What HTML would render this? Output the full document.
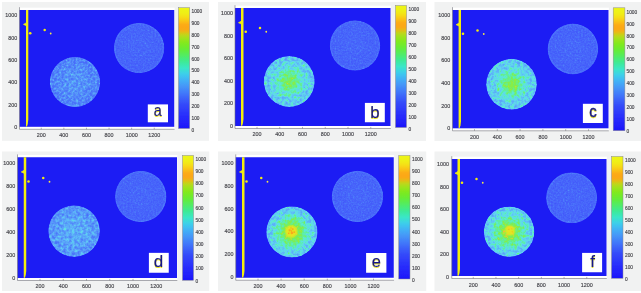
<!DOCTYPE html>
<html><head><meta charset="utf-8"><title>figure</title>
<style>html,body{margin:0;padding:0;background:#fff}svg{display:block}text{font-family:"Liberation Sans",Arial,sans-serif}</style></head><body>
<svg width="641" height="293" viewBox="0 0 641 293">
<defs>
<radialGradient id="g_a" cx="0.5" cy="0.5" r="0.5"><stop offset="0" stop-color="#545454"/><stop offset="0.5" stop-color="#505050"/><stop offset="0.9" stop-color="#4a4a4a"/><stop offset="0.96" stop-color="#4f4f4f"/><stop offset="1" stop-color="#4a4a4a"/></radialGradient>
<filter id="h_a" x="0" y="0" width="1" height="1" color-interpolation-filters="sRGB"><feTurbulence type="fractalNoise" baseFrequency="0.42" numOctaves="2" seed="2" result="t"/><feColorMatrix in="t" type="matrix" values="1 0 0 0 0  1 0 0 0 0  1 0 0 0 0  0 0 0 0 1" result="n0"/><feComponentTransfer in="n0" result="n"><feFuncR type="gamma" exponent="2.0"/><feFuncG type="gamma" exponent="2.0"/><feFuncB type="gamma" exponent="2.0"/></feComponentTransfer><feComposite in="SourceGraphic" in2="n" operator="arithmetic" k1="0" k2="1" k3="0.26" k4="-0.065" result="v"/><feComponentTransfer in="v" result="c"><feFuncR type="table" tableValues="0.154 0.167 0.180 0.192 0.205 0.218 0.230 0.243 0.255 0.271 0.287 0.299 0.320 0.336 0.351 0.360 0.368 0.370 0.373 0.367 0.361 0.361 0.362 0.392 0.422 0.453 0.484 0.523 0.563 0.625 0.695 0.787 0.915 0.984 0.990 0.986 0.978 0.965 0.947 0.940 0.933"/><feFuncG type="table" tableValues="0.132 0.154 0.176 0.198 0.220 0.249 0.278 0.307 0.336 0.381 0.426 0.475 0.529 0.583 0.636 0.687 0.736 0.790 0.842 0.880 0.919 0.925 0.931 0.934 0.937 0.937 0.937 0.933 0.929 0.917 0.897 0.859 0.768 0.702 0.707 0.754 0.823 0.888 0.940 0.954 0.968"/><feFuncB type="table" tableValues="0.981 0.983 0.985 0.987 0.989 0.987 0.985 0.983 0.982 0.982 0.982 0.982 0.982 0.979 0.976 0.973 0.970 0.954 0.939 0.880 0.822 0.743 0.663 0.583 0.502 0.420 0.337 0.294 0.251 0.239 0.229 0.219 0.211 0.208 0.204 0.198 0.189 0.181 0.177 0.174 0.171"/></feComponentTransfer><feComposite in="c" in2="SourceAlpha" operator="in"/></filter>
<radialGradient id="g_b" cx="0.5" cy="0.5" r="0.5"><stop offset="0" stop-color="#ababab"/><stop offset="0.2" stop-color="#9e9e9e"/><stop offset="0.42" stop-color="#858585"/><stop offset="0.65" stop-color="#737373"/><stop offset="0.9" stop-color="#6b6b6b"/><stop offset="0.96" stop-color="#707070"/><stop offset="1" stop-color="#696969"/></radialGradient>
<filter id="h_b" x="0" y="0" width="1" height="1" color-interpolation-filters="sRGB"><feTurbulence type="fractalNoise" baseFrequency="0.34" numOctaves="2" seed="5" result="t"/><feColorMatrix in="t" type="matrix" values="1 0 0 0 0  1 0 0 0 0  1 0 0 0 0  0 0 0 0 1" result="n0"/><feComponentTransfer in="n0" result="n"><feFuncR type="gamma" exponent="2.0"/><feFuncG type="gamma" exponent="2.0"/><feFuncB type="gamma" exponent="2.0"/></feComponentTransfer><feComposite in="SourceGraphic" in2="n" operator="arithmetic" k1="0" k2="1" k3="0.36" k4="-0.090" result="v"/><feComponentTransfer in="v" result="c"><feFuncR type="table" tableValues="0.154 0.167 0.180 0.192 0.205 0.218 0.230 0.243 0.255 0.271 0.287 0.299 0.320 0.336 0.351 0.360 0.368 0.370 0.373 0.367 0.361 0.361 0.362 0.392 0.422 0.453 0.484 0.523 0.563 0.625 0.695 0.787 0.915 0.984 0.990 0.986 0.978 0.965 0.947 0.940 0.933"/><feFuncG type="table" tableValues="0.132 0.154 0.176 0.198 0.220 0.249 0.278 0.307 0.336 0.381 0.426 0.475 0.529 0.583 0.636 0.687 0.736 0.790 0.842 0.880 0.919 0.925 0.931 0.934 0.937 0.937 0.937 0.933 0.929 0.917 0.897 0.859 0.768 0.702 0.707 0.754 0.823 0.888 0.940 0.954 0.968"/><feFuncB type="table" tableValues="0.981 0.983 0.985 0.987 0.989 0.987 0.985 0.983 0.982 0.982 0.982 0.982 0.982 0.979 0.976 0.973 0.970 0.954 0.939 0.880 0.822 0.743 0.663 0.583 0.502 0.420 0.337 0.294 0.251 0.239 0.229 0.219 0.211 0.208 0.204 0.198 0.189 0.181 0.177 0.174 0.171"/></feComponentTransfer><feComposite in="c" in2="SourceAlpha" operator="in"/></filter>
<radialGradient id="g_c" cx="0.5" cy="0.5" r="0.5"><stop offset="0" stop-color="#b0b0b0"/><stop offset="0.2" stop-color="#a1a1a1"/><stop offset="0.42" stop-color="#858585"/><stop offset="0.65" stop-color="#737373"/><stop offset="0.9" stop-color="#6b6b6b"/><stop offset="0.96" stop-color="#707070"/><stop offset="1" stop-color="#696969"/></radialGradient>
<filter id="h_c" x="0" y="0" width="1" height="1" color-interpolation-filters="sRGB"><feTurbulence type="fractalNoise" baseFrequency="0.34" numOctaves="2" seed="9" result="t"/><feColorMatrix in="t" type="matrix" values="1 0 0 0 0  1 0 0 0 0  1 0 0 0 0  0 0 0 0 1" result="n0"/><feComponentTransfer in="n0" result="n"><feFuncR type="gamma" exponent="2.0"/><feFuncG type="gamma" exponent="2.0"/><feFuncB type="gamma" exponent="2.0"/></feComponentTransfer><feComposite in="SourceGraphic" in2="n" operator="arithmetic" k1="0" k2="1" k3="0.36" k4="-0.090" result="v"/><feComponentTransfer in="v" result="c"><feFuncR type="table" tableValues="0.154 0.167 0.180 0.192 0.205 0.218 0.230 0.243 0.255 0.271 0.287 0.299 0.320 0.336 0.351 0.360 0.368 0.370 0.373 0.367 0.361 0.361 0.362 0.392 0.422 0.453 0.484 0.523 0.563 0.625 0.695 0.787 0.915 0.984 0.990 0.986 0.978 0.965 0.947 0.940 0.933"/><feFuncG type="table" tableValues="0.132 0.154 0.176 0.198 0.220 0.249 0.278 0.307 0.336 0.381 0.426 0.475 0.529 0.583 0.636 0.687 0.736 0.790 0.842 0.880 0.919 0.925 0.931 0.934 0.937 0.937 0.937 0.933 0.929 0.917 0.897 0.859 0.768 0.702 0.707 0.754 0.823 0.888 0.940 0.954 0.968"/><feFuncB type="table" tableValues="0.981 0.983 0.985 0.987 0.989 0.987 0.985 0.983 0.982 0.982 0.982 0.982 0.982 0.979 0.976 0.973 0.970 0.954 0.939 0.880 0.822 0.743 0.663 0.583 0.502 0.420 0.337 0.294 0.251 0.239 0.229 0.219 0.211 0.208 0.204 0.198 0.189 0.181 0.177 0.174 0.171"/></feComponentTransfer><feComposite in="c" in2="SourceAlpha" operator="in"/></filter>
<radialGradient id="g_d" cx="0.5" cy="0.5" r="0.5"><stop offset="0" stop-color="#606060"/><stop offset="0.5" stop-color="#5b5b5b"/><stop offset="0.9" stop-color="#535353"/><stop offset="0.96" stop-color="#585858"/><stop offset="1" stop-color="#525252"/></radialGradient>
<filter id="h_d" x="0" y="0" width="1" height="1" color-interpolation-filters="sRGB"><feTurbulence type="fractalNoise" baseFrequency="0.36" numOctaves="2" seed="12" result="t"/><feColorMatrix in="t" type="matrix" values="1 0 0 0 0  1 0 0 0 0  1 0 0 0 0  0 0 0 0 1" result="n0"/><feComponentTransfer in="n0" result="n"><feFuncR type="gamma" exponent="1.6"/><feFuncG type="gamma" exponent="1.6"/><feFuncB type="gamma" exponent="1.6"/></feComponentTransfer><feComposite in="SourceGraphic" in2="n" operator="arithmetic" k1="0" k2="1" k3="0.28" k4="-0.092" result="v"/><feComponentTransfer in="v" result="c"><feFuncR type="table" tableValues="0.154 0.167 0.180 0.192 0.205 0.218 0.230 0.243 0.255 0.271 0.287 0.299 0.320 0.336 0.351 0.360 0.368 0.370 0.373 0.367 0.361 0.361 0.362 0.392 0.422 0.453 0.484 0.523 0.563 0.625 0.695 0.787 0.915 0.984 0.990 0.986 0.978 0.965 0.947 0.940 0.933"/><feFuncG type="table" tableValues="0.132 0.154 0.176 0.198 0.220 0.249 0.278 0.307 0.336 0.381 0.426 0.475 0.529 0.583 0.636 0.687 0.736 0.790 0.842 0.880 0.919 0.925 0.931 0.934 0.937 0.937 0.937 0.933 0.929 0.917 0.897 0.859 0.768 0.702 0.707 0.754 0.823 0.888 0.940 0.954 0.968"/><feFuncB type="table" tableValues="0.981 0.983 0.985 0.987 0.989 0.987 0.985 0.983 0.982 0.982 0.982 0.982 0.982 0.979 0.976 0.973 0.970 0.954 0.939 0.880 0.822 0.743 0.663 0.583 0.502 0.420 0.337 0.294 0.251 0.239 0.229 0.219 0.211 0.208 0.204 0.198 0.189 0.181 0.177 0.174 0.171"/></feComponentTransfer><feComposite in="c" in2="SourceAlpha" operator="in"/></filter>
<radialGradient id="g_e" cx="0.5" cy="0.5" r="0.5"><stop offset="0" stop-color="#c7c7c7"/><stop offset="0.18" stop-color="#bdbdbd"/><stop offset="0.32" stop-color="#a6a6a6"/><stop offset="0.52" stop-color="#8b8b8b"/><stop offset="0.72" stop-color="#757575"/><stop offset="0.9" stop-color="#6c6c6c"/><stop offset="0.96" stop-color="#717171"/><stop offset="1" stop-color="#696969"/></radialGradient>
<filter id="h_e" x="0" y="0" width="1" height="1" color-interpolation-filters="sRGB"><feTurbulence type="fractalNoise" baseFrequency="0.34" numOctaves="2" seed="17" result="t"/><feColorMatrix in="t" type="matrix" values="1 0 0 0 0  1 0 0 0 0  1 0 0 0 0  0 0 0 0 1" result="n0"/><feComponentTransfer in="n0" result="n"><feFuncR type="gamma" exponent="2.0"/><feFuncG type="gamma" exponent="2.0"/><feFuncB type="gamma" exponent="2.0"/></feComponentTransfer><feComposite in="SourceGraphic" in2="n" operator="arithmetic" k1="0" k2="1" k3="0.36" k4="-0.090" result="v"/><feComponentTransfer in="v" result="c"><feFuncR type="table" tableValues="0.154 0.167 0.180 0.192 0.205 0.218 0.230 0.243 0.255 0.271 0.287 0.299 0.320 0.336 0.351 0.360 0.368 0.370 0.373 0.367 0.361 0.361 0.362 0.392 0.422 0.453 0.484 0.523 0.563 0.625 0.695 0.787 0.915 0.984 0.990 0.986 0.978 0.965 0.947 0.940 0.933"/><feFuncG type="table" tableValues="0.132 0.154 0.176 0.198 0.220 0.249 0.278 0.307 0.336 0.381 0.426 0.475 0.529 0.583 0.636 0.687 0.736 0.790 0.842 0.880 0.919 0.925 0.931 0.934 0.937 0.937 0.937 0.933 0.929 0.917 0.897 0.859 0.768 0.702 0.707 0.754 0.823 0.888 0.940 0.954 0.968"/><feFuncB type="table" tableValues="0.981 0.983 0.985 0.987 0.989 0.987 0.985 0.983 0.982 0.982 0.982 0.982 0.982 0.979 0.976 0.973 0.970 0.954 0.939 0.880 0.822 0.743 0.663 0.583 0.502 0.420 0.337 0.294 0.251 0.239 0.229 0.219 0.211 0.208 0.204 0.198 0.189 0.181 0.177 0.174 0.171"/></feComponentTransfer><feComposite in="c" in2="SourceAlpha" operator="in"/></filter>
<radialGradient id="g_f" cx="0.5" cy="0.5" r="0.5"><stop offset="0" stop-color="#bfbfbf"/><stop offset="0.2" stop-color="#b8b8b8"/><stop offset="0.34" stop-color="#9e9e9e"/><stop offset="0.56" stop-color="#878787"/><stop offset="0.76" stop-color="#747474"/><stop offset="0.9" stop-color="#6c6c6c"/><stop offset="0.96" stop-color="#717171"/><stop offset="1" stop-color="#696969"/></radialGradient>
<filter id="h_f" x="0" y="0" width="1" height="1" color-interpolation-filters="sRGB"><feTurbulence type="fractalNoise" baseFrequency="0.34" numOctaves="2" seed="23" result="t"/><feColorMatrix in="t" type="matrix" values="1 0 0 0 0  1 0 0 0 0  1 0 0 0 0  0 0 0 0 1" result="n0"/><feComponentTransfer in="n0" result="n"><feFuncR type="gamma" exponent="2.0"/><feFuncG type="gamma" exponent="2.0"/><feFuncB type="gamma" exponent="2.0"/></feComponentTransfer><feComposite in="SourceGraphic" in2="n" operator="arithmetic" k1="0" k2="1" k3="0.36" k4="-0.090" result="v"/><feComponentTransfer in="v" result="c"><feFuncR type="table" tableValues="0.154 0.167 0.180 0.192 0.205 0.218 0.230 0.243 0.255 0.271 0.287 0.299 0.320 0.336 0.351 0.360 0.368 0.370 0.373 0.367 0.361 0.361 0.362 0.392 0.422 0.453 0.484 0.523 0.563 0.625 0.695 0.787 0.915 0.984 0.990 0.986 0.978 0.965 0.947 0.940 0.933"/><feFuncG type="table" tableValues="0.132 0.154 0.176 0.198 0.220 0.249 0.278 0.307 0.336 0.381 0.426 0.475 0.529 0.583 0.636 0.687 0.736 0.790 0.842 0.880 0.919 0.925 0.931 0.934 0.937 0.937 0.937 0.933 0.929 0.917 0.897 0.859 0.768 0.702 0.707 0.754 0.823 0.888 0.940 0.954 0.968"/><feFuncB type="table" tableValues="0.981 0.983 0.985 0.987 0.989 0.987 0.985 0.983 0.982 0.982 0.982 0.982 0.982 0.979 0.976 0.973 0.970 0.954 0.939 0.880 0.822 0.743 0.663 0.583 0.502 0.420 0.337 0.294 0.251 0.239 0.229 0.219 0.211 0.208 0.204 0.198 0.189 0.181 0.177 0.174 0.171"/></feComponentTransfer><feComposite in="c" in2="SourceAlpha" operator="in"/></filter>
<radialGradient id="g_r" cx="0.5" cy="0.5" r="0.5"><stop offset="0" stop-color="#3d3d3d"/><stop offset="0.28" stop-color="#3c3c3c"/><stop offset="0.31" stop-color="#424242"/><stop offset="0.34" stop-color="#3c3c3c"/><stop offset="0.9" stop-color="#3b3b3b"/><stop offset="0.96" stop-color="#424242"/><stop offset="1" stop-color="#3c3c3c"/></radialGradient>
<filter id="h_r" x="0" y="0" width="1" height="1" color-interpolation-filters="sRGB"><feTurbulence type="fractalNoise" baseFrequency="0.6" numOctaves="2" seed="31" result="t"/><feColorMatrix in="t" type="matrix" values="1 0 0 0 0  1 0 0 0 0  1 0 0 0 0  0 0 0 0 1" result="n0"/><feComponentTransfer in="n0" result="n"><feFuncR type="gamma" exponent="2.0"/><feFuncG type="gamma" exponent="2.0"/><feFuncB type="gamma" exponent="2.0"/></feComponentTransfer><feComposite in="SourceGraphic" in2="n" operator="arithmetic" k1="0" k2="1" k3="0.12" k4="-0.030" result="v"/><feComponentTransfer in="v" result="c"><feFuncR type="table" tableValues="0.154 0.167 0.180 0.192 0.205 0.218 0.230 0.243 0.255 0.271 0.287 0.299 0.320 0.336 0.351 0.360 0.368 0.370 0.373 0.367 0.361 0.361 0.362 0.392 0.422 0.453 0.484 0.523 0.563 0.625 0.695 0.787 0.915 0.984 0.990 0.986 0.978 0.965 0.947 0.940 0.933"/><feFuncG type="table" tableValues="0.132 0.154 0.176 0.198 0.220 0.249 0.278 0.307 0.336 0.381 0.426 0.475 0.529 0.583 0.636 0.687 0.736 0.790 0.842 0.880 0.919 0.925 0.931 0.934 0.937 0.937 0.937 0.933 0.929 0.917 0.897 0.859 0.768 0.702 0.707 0.754 0.823 0.888 0.940 0.954 0.968"/><feFuncB type="table" tableValues="0.981 0.983 0.985 0.987 0.989 0.987 0.985 0.983 0.982 0.982 0.982 0.982 0.982 0.979 0.976 0.973 0.970 0.954 0.939 0.880 0.822 0.743 0.663 0.583 0.502 0.420 0.337 0.294 0.251 0.239 0.229 0.219 0.211 0.208 0.204 0.198 0.189 0.181 0.177 0.174 0.171"/></feComponentTransfer><feComposite in="c" in2="SourceAlpha" operator="in"/></filter>
<linearGradient id="cb" x1="0" y1="0" x2="0" y2="1"><stop offset="0.000" stop-color="#ecf614"/><stop offset="0.020" stop-color="#eef314"/><stop offset="0.040" stop-color="#eff014"/><stop offset="0.060" stop-color="#f2e814"/><stop offset="0.080" stop-color="#f6dc14"/><stop offset="0.100" stop-color="#f9cc15"/><stop offset="0.120" stop-color="#fbbc17"/><stop offset="0.140" stop-color="#fcac18"/><stop offset="0.160" stop-color="#fca818"/><stop offset="0.180" stop-color="#f9aa18"/><stop offset="0.200" stop-color="#e6bb18"/><stop offset="0.220" stop-color="#c8d119"/><stop offset="0.240" stop-color="#afdd1b"/><stop offset="0.260" stop-color="#9be41c"/><stop offset="0.280" stop-color="#8ce71e"/><stop offset="0.300" stop-color="#7dea20"/><stop offset="0.320" stop-color="#73eb2a"/><stop offset="0.340" stop-color="#69ec33"/><stop offset="0.360" stop-color="#60ec42"/><stop offset="0.380" stop-color="#58ec55"/><stop offset="0.400" stop-color="#50ec68"/><stop offset="0.420" stop-color="#48eb7b"/><stop offset="0.440" stop-color="#40ea8e"/><stop offset="0.460" stop-color="#3ce9a2"/><stop offset="0.480" stop-color="#3be8b5"/><stop offset="0.500" stop-color="#3ae6c8"/><stop offset="0.520" stop-color="#3bdcd6"/><stop offset="0.540" stop-color="#3cd3e5"/><stop offset="0.560" stop-color="#3dc8ee"/><stop offset="0.580" stop-color="#40bcf2"/><stop offset="0.600" stop-color="#42b0f6"/><stop offset="0.620" stop-color="#43a6f7"/><stop offset="0.640" stop-color="#449bf8"/><stop offset="0.660" stop-color="#4491f8"/><stop offset="0.680" stop-color="#4386f9"/><stop offset="0.700" stop-color="#427cfa"/><stop offset="0.720" stop-color="#4072fa"/><stop offset="0.740" stop-color="#3d67fa"/><stop offset="0.760" stop-color="#3a5dfa"/><stop offset="0.780" stop-color="#3754fa"/><stop offset="0.800" stop-color="#344afa"/><stop offset="0.820" stop-color="#3244fa"/><stop offset="0.840" stop-color="#2f3efb"/><stop offset="0.860" stop-color="#2d38fb"/><stop offset="0.880" stop-color="#2a32fc"/><stop offset="0.900" stop-color="#282cfc"/><stop offset="0.920" stop-color="#2628fc"/><stop offset="0.940" stop-color="#2323fb"/><stop offset="0.960" stop-color="#211ffb"/><stop offset="0.980" stop-color="#1e1afa"/><stop offset="1.000" stop-color="#1c16fa"/></linearGradient>
<radialGradient id="core_e"><stop offset="0" stop-color="#f0d81c" stop-opacity="0.95"/><stop offset="0.6" stop-color="#e8e61e" stop-opacity="0.9"/><stop offset="0.82" stop-color="#d8ea24" stop-opacity="0.6"/><stop offset="1" stop-color="#c0ec30" stop-opacity="0"/></radialGradient>
<radialGradient id="core_f"><stop offset="0" stop-color="#f2e01c" stop-opacity="0.95"/><stop offset="0.6" stop-color="#e4e81e" stop-opacity="0.8"/><stop offset="1" stop-color="#b8ec38" stop-opacity="0"/></radialGradient>
<filter id="soft" x="-5%" y="-5%" width="110%" height="110%"><feGaussianBlur stdDeviation="0.4"/></filter>
<filter id="tsoft" x="-10%" y="-10%" width="120%" height="120%"><feGaussianBlur stdDeviation="0.22"/></filter>
<filter id="glow" x="-20%" y="-20%" width="140%" height="140%" color-interpolation-filters="sRGB"><feOffset in="SourceAlpha" dx="-0.5" dy="0.8" result="o"/><feGaussianBlur in="o" stdDeviation="0.5" result="ob"/><feFlood flood-color="#e8e000" flood-opacity="0.9"/><feComposite in2="ob" operator="in" result="y"/><feGaussianBlur in="SourceGraphic" stdDeviation="0.3" result="sg"/><feMerge><feMergeNode in="y"/><feMergeNode in="sg"/></feMerge></filter>
</defs>
<rect width="641" height="293" fill="#ffffff"/>
<g id="panel-a">
<rect x="2" y="2" width="207.00" height="138.80" fill="#f1f2f2"/>
<rect x="19.5" y="7.70" width="155.15" height="121.60" fill="#ffffff"/>
<g filter="url(#soft)">
<rect x="19.5" y="10" width="154.75" height="116.80" fill="#1e1af4"/>
<circle cx="139.1" cy="48" r="25.3" fill="url(#g_r)" filter="url(#h_r)"/>
<circle cx="75" cy="82" r="25.2" fill="url(#g_a)" filter="url(#h_a)"/>
<path d="M26 10.00H28.3V119.80L27.80 123.80L27.00 126.50H26Z" fill="#f2ee10"/>
<path d="M26.50 22.70L23.50 24.40L26.50 25.80Z" fill="#f2ee10" stroke="#f2ee10" stroke-width="0.7" stroke-linejoin="round"/>
<circle cx="30.2" cy="33.2" r="1.3" fill="#f2ee10"/>
<circle cx="44.7" cy="30" r="1.25" fill="#f2ee10"/>
<circle cx="50.7" cy="33.5" r="0.9" fill="#f2ea48"/>
</g>
<path d="M19.5 7.20V129.30H174.55" fill="none" stroke="#70707a" stroke-width="0.6"/>
<g filter="url(#tsoft)">
<path d="M41.25 129.30v-1.6" stroke="#666" stroke-width="0.5"/>
<text x="41.25" y="136.60" font-size="5.4" text-anchor="middle" fill="#46464c" stroke="#46464c" stroke-width="0.15">200</text>
<path d="M63.85 129.30v-1.6" stroke="#666" stroke-width="0.5"/>
<text x="63.85" y="136.60" font-size="5.4" text-anchor="middle" fill="#46464c" stroke="#46464c" stroke-width="0.15">400</text>
<path d="M86.45 129.30v-1.6" stroke="#666" stroke-width="0.5"/>
<text x="86.45" y="136.60" font-size="5.4" text-anchor="middle" fill="#46464c" stroke="#46464c" stroke-width="0.15">600</text>
<path d="M109.05 129.30v-1.6" stroke="#666" stroke-width="0.5"/>
<text x="109.05" y="136.60" font-size="5.4" text-anchor="middle" fill="#46464c" stroke="#46464c" stroke-width="0.15">800</text>
<path d="M131.65 129.30v-1.6" stroke="#666" stroke-width="0.5"/>
<text x="131.65" y="136.60" font-size="5.4" text-anchor="middle" fill="#46464c" stroke="#46464c" stroke-width="0.15">1000</text>
<path d="M154.25 129.30v-1.6" stroke="#666" stroke-width="0.5"/>
<text x="154.25" y="136.60" font-size="5.4" text-anchor="middle" fill="#46464c" stroke="#46464c" stroke-width="0.15">1200</text>
<text x="17.3" y="17.15" font-size="5.4" text-anchor="end" fill="#46464c" stroke="#46464c" stroke-width="0.15">1000</text>
<text x="17.3" y="39.55" font-size="5.4" text-anchor="end" fill="#46464c" stroke="#46464c" stroke-width="0.15">800</text>
<text x="17.3" y="61.95" font-size="5.4" text-anchor="end" fill="#46464c" stroke="#46464c" stroke-width="0.15">600</text>
<text x="17.3" y="84.35" font-size="5.4" text-anchor="end" fill="#46464c" stroke="#46464c" stroke-width="0.15">400</text>
<text x="17.3" y="106.75" font-size="5.4" text-anchor="end" fill="#46464c" stroke="#46464c" stroke-width="0.15">200</text>
<text x="17.3" y="129.15" font-size="5.4" text-anchor="end" fill="#46464c" stroke="#46464c" stroke-width="0.15">0</text>
<text x="191.50" y="13.20" font-size="4.8" fill="#46464c" stroke="#46464c" stroke-width="0.15">1000</text>
<text x="191.50" y="25.04" font-size="4.8" fill="#46464c" stroke="#46464c" stroke-width="0.15">900</text>
<text x="191.50" y="36.88" font-size="4.8" fill="#46464c" stroke="#46464c" stroke-width="0.15">800</text>
<text x="191.50" y="48.72" font-size="4.8" fill="#46464c" stroke="#46464c" stroke-width="0.15">700</text>
<text x="191.50" y="60.56" font-size="4.8" fill="#46464c" stroke="#46464c" stroke-width="0.15">600</text>
<text x="191.50" y="72.40" font-size="4.8" fill="#46464c" stroke="#46464c" stroke-width="0.15">500</text>
<text x="191.50" y="84.24" font-size="4.8" fill="#46464c" stroke="#46464c" stroke-width="0.15">400</text>
<text x="191.50" y="96.08" font-size="4.8" fill="#46464c" stroke="#46464c" stroke-width="0.15">300</text>
<text x="191.50" y="107.92" font-size="4.8" fill="#46464c" stroke="#46464c" stroke-width="0.15">200</text>
<text x="191.50" y="119.76" font-size="4.8" fill="#46464c" stroke="#46464c" stroke-width="0.15">100</text>
<text x="191.50" y="131.60" font-size="4.8" fill="#46464c" stroke="#46464c" stroke-width="0.15">0</text>
</g>
<rect x="178.5" y="7.7" width="11.20" height="120.80" fill="url(#cb)" stroke="#8a8a90" stroke-width="0.5" filter="url(#soft)"/>
<rect x="147.8" y="104.4" width="20.20" height="17.90" fill="#ffffff"/>
<text transform="translate(157.8 116.3) scale(0.87 1)" font-size="16.5" text-anchor="middle" fill="#17178a" stroke="#17178a" stroke-width="0.1" filter="url(#glow)">a</text>
</g>
<g id="panel-b">
<rect x="218" y="2" width="208.00" height="139.00" fill="#f1f2f2"/>
<rect x="235" y="5.70" width="155.90" height="122.80" fill="#ffffff"/>
<g filter="url(#soft)">
<rect x="235" y="8" width="155.50" height="118.00" fill="#1e1af4"/>
<circle cx="355" cy="45.5" r="25.3" fill="url(#g_r)" filter="url(#h_r)"/>
<circle cx="289.25" cy="81.4" r="25.5" fill="url(#g_b)" filter="url(#h_b)"/>
<path d="M241 8.00H243.5V119.00L243.00 123.00L242.20 125.70H241Z" fill="#f2ee10"/>
<path d="M241.50 21.00L238.50 22.70L241.50 24.10Z" fill="#f2ee10" stroke="#f2ee10" stroke-width="0.7" stroke-linejoin="round"/>
<circle cx="245.75" cy="31.75" r="1.3" fill="#f2ee10"/>
<circle cx="260" cy="28" r="1.25" fill="#f2ee10"/>
<circle cx="266.25" cy="31.75" r="0.9" fill="#f2ea48"/>
</g>
<path d="M235 5.20V128.50H390.80" fill="none" stroke="#70707a" stroke-width="0.6"/>
<g filter="url(#tsoft)">
<path d="M257.00 128.50v-1.6" stroke="#666" stroke-width="0.5"/>
<text x="257.00" y="135.60" font-size="5.4" text-anchor="middle" fill="#46464c" stroke="#46464c" stroke-width="0.15">200</text>
<path d="M279.75 128.50v-1.6" stroke="#666" stroke-width="0.5"/>
<text x="279.75" y="135.60" font-size="5.4" text-anchor="middle" fill="#46464c" stroke="#46464c" stroke-width="0.15">400</text>
<path d="M302.50 128.50v-1.6" stroke="#666" stroke-width="0.5"/>
<text x="302.50" y="135.60" font-size="5.4" text-anchor="middle" fill="#46464c" stroke="#46464c" stroke-width="0.15">600</text>
<path d="M325.25 128.50v-1.6" stroke="#666" stroke-width="0.5"/>
<text x="325.25" y="135.60" font-size="5.4" text-anchor="middle" fill="#46464c" stroke="#46464c" stroke-width="0.15">800</text>
<path d="M348.00 128.50v-1.6" stroke="#666" stroke-width="0.5"/>
<text x="348.00" y="135.60" font-size="5.4" text-anchor="middle" fill="#46464c" stroke="#46464c" stroke-width="0.15">1000</text>
<path d="M370.75 128.50v-1.6" stroke="#666" stroke-width="0.5"/>
<text x="370.75" y="135.60" font-size="5.4" text-anchor="middle" fill="#46464c" stroke="#46464c" stroke-width="0.15">1200</text>
<text x="233" y="15.45" font-size="5.4" text-anchor="end" fill="#46464c" stroke="#46464c" stroke-width="0.15">1000</text>
<text x="233" y="37.95" font-size="5.4" text-anchor="end" fill="#46464c" stroke="#46464c" stroke-width="0.15">800</text>
<text x="233" y="60.45" font-size="5.4" text-anchor="end" fill="#46464c" stroke="#46464c" stroke-width="0.15">600</text>
<text x="233" y="82.95" font-size="5.4" text-anchor="end" fill="#46464c" stroke="#46464c" stroke-width="0.15">400</text>
<text x="233" y="105.45" font-size="5.4" text-anchor="end" fill="#46464c" stroke="#46464c" stroke-width="0.15">200</text>
<text x="233" y="127.95" font-size="5.4" text-anchor="end" fill="#46464c" stroke="#46464c" stroke-width="0.15">0</text>
<text x="408.50" y="11.30" font-size="4.8" fill="#46464c" stroke="#46464c" stroke-width="0.15">1000</text>
<text x="408.50" y="23.25" font-size="4.8" fill="#46464c" stroke="#46464c" stroke-width="0.15">900</text>
<text x="408.50" y="35.20" font-size="4.8" fill="#46464c" stroke="#46464c" stroke-width="0.15">800</text>
<text x="408.50" y="47.15" font-size="4.8" fill="#46464c" stroke="#46464c" stroke-width="0.15">700</text>
<text x="408.50" y="59.10" font-size="4.8" fill="#46464c" stroke="#46464c" stroke-width="0.15">600</text>
<text x="408.50" y="71.05" font-size="4.8" fill="#46464c" stroke="#46464c" stroke-width="0.15">500</text>
<text x="408.50" y="83.00" font-size="4.8" fill="#46464c" stroke="#46464c" stroke-width="0.15">400</text>
<text x="408.50" y="94.95" font-size="4.8" fill="#46464c" stroke="#46464c" stroke-width="0.15">300</text>
<text x="408.50" y="106.90" font-size="4.8" fill="#46464c" stroke="#46464c" stroke-width="0.15">200</text>
<text x="408.50" y="118.85" font-size="4.8" fill="#46464c" stroke="#46464c" stroke-width="0.15">100</text>
<text x="408.50" y="130.80" font-size="4.8" fill="#46464c" stroke="#46464c" stroke-width="0.15">0</text>
</g>
<rect x="395.5" y="5.5" width="11.00" height="122.00" fill="url(#cb)" stroke="#8a8a90" stroke-width="0.5" filter="url(#soft)"/>
<rect x="364.9" y="102.9" width="19.90" height="19.35" fill="#ffffff"/>
<text transform="translate(375.0 118.1) scale(1 1)" font-size="16.8" text-anchor="middle" fill="#17178a" stroke="#17178a" stroke-width="0.1" filter="url(#glow)">b</text>
</g>
<g id="panel-c">
<rect x="434.5" y="2" width="206.50" height="139.00" fill="#f1f2f2"/>
<rect x="452.5" y="7.70" width="156.40" height="123.10" fill="#ffffff"/>
<g filter="url(#soft)">
<rect x="452.5" y="10" width="156.00" height="118.30" fill="#1e1af4"/>
<circle cx="572.9" cy="49" r="25.4" fill="url(#g_r)" filter="url(#h_r)"/>
<circle cx="511.5" cy="84.25" r="25.4" fill="url(#g_c)" filter="url(#h_c)"/>
<path d="M458.6 10.00H461V121.30L460.50 125.30L459.70 128.00H458.6Z" fill="#f2ee10"/>
<path d="M459.10 23.00L456.10 24.70L459.10 26.10Z" fill="#f2ee10" stroke="#f2ee10" stroke-width="0.7" stroke-linejoin="round"/>
<circle cx="463" cy="33.75" r="1.3" fill="#f2ee10"/>
<circle cx="477.5" cy="30.5" r="1.25" fill="#f2ee10"/>
<circle cx="483.75" cy="34" r="0.9" fill="#f2ea48"/>
</g>
<path d="M452.5 7.20V130.80H608.80" fill="none" stroke="#70707a" stroke-width="0.6"/>
<g filter="url(#tsoft)">
<path d="M474.50 130.80v-1.6" stroke="#666" stroke-width="0.5"/>
<text x="474.50" y="138.60" font-size="5.4" text-anchor="middle" fill="#46464c" stroke="#46464c" stroke-width="0.15">200</text>
<path d="M497.30 130.80v-1.6" stroke="#666" stroke-width="0.5"/>
<text x="497.30" y="138.60" font-size="5.4" text-anchor="middle" fill="#46464c" stroke="#46464c" stroke-width="0.15">400</text>
<path d="M520.10 130.80v-1.6" stroke="#666" stroke-width="0.5"/>
<text x="520.10" y="138.60" font-size="5.4" text-anchor="middle" fill="#46464c" stroke="#46464c" stroke-width="0.15">600</text>
<path d="M542.90 130.80v-1.6" stroke="#666" stroke-width="0.5"/>
<text x="542.90" y="138.60" font-size="5.4" text-anchor="middle" fill="#46464c" stroke="#46464c" stroke-width="0.15">800</text>
<path d="M565.70 130.80v-1.6" stroke="#666" stroke-width="0.5"/>
<text x="565.70" y="138.60" font-size="5.4" text-anchor="middle" fill="#46464c" stroke="#46464c" stroke-width="0.15">1000</text>
<path d="M588.50 130.80v-1.6" stroke="#666" stroke-width="0.5"/>
<text x="588.50" y="138.60" font-size="5.4" text-anchor="middle" fill="#46464c" stroke="#46464c" stroke-width="0.15">1200</text>
<text x="450.3" y="17.10" font-size="5.4" text-anchor="end" fill="#46464c" stroke="#46464c" stroke-width="0.15">1000</text>
<text x="450.3" y="39.75" font-size="5.4" text-anchor="end" fill="#46464c" stroke="#46464c" stroke-width="0.15">800</text>
<text x="450.3" y="62.40" font-size="5.4" text-anchor="end" fill="#46464c" stroke="#46464c" stroke-width="0.15">600</text>
<text x="450.3" y="85.05" font-size="5.4" text-anchor="end" fill="#46464c" stroke="#46464c" stroke-width="0.15">400</text>
<text x="450.3" y="107.70" font-size="5.4" text-anchor="end" fill="#46464c" stroke="#46464c" stroke-width="0.15">200</text>
<text x="450.3" y="130.35" font-size="5.4" text-anchor="end" fill="#46464c" stroke="#46464c" stroke-width="0.15">0</text>
<text x="626.50" y="13.55" font-size="4.8" fill="#46464c" stroke="#46464c" stroke-width="0.15">1000</text>
<text x="626.50" y="25.53" font-size="4.8" fill="#46464c" stroke="#46464c" stroke-width="0.15">900</text>
<text x="626.50" y="37.50" font-size="4.8" fill="#46464c" stroke="#46464c" stroke-width="0.15">800</text>
<text x="626.50" y="49.47" font-size="4.8" fill="#46464c" stroke="#46464c" stroke-width="0.15">700</text>
<text x="626.50" y="61.45" font-size="4.8" fill="#46464c" stroke="#46464c" stroke-width="0.15">600</text>
<text x="626.50" y="73.42" font-size="4.8" fill="#46464c" stroke="#46464c" stroke-width="0.15">500</text>
<text x="626.50" y="85.40" font-size="4.8" fill="#46464c" stroke="#46464c" stroke-width="0.15">400</text>
<text x="626.50" y="97.38" font-size="4.8" fill="#46464c" stroke="#46464c" stroke-width="0.15">300</text>
<text x="626.50" y="109.35" font-size="4.8" fill="#46464c" stroke="#46464c" stroke-width="0.15">200</text>
<text x="626.50" y="121.33" font-size="4.8" fill="#46464c" stroke="#46464c" stroke-width="0.15">100</text>
<text x="626.50" y="133.30" font-size="4.8" fill="#46464c" stroke="#46464c" stroke-width="0.15">0</text>
</g>
<rect x="613.2" y="7.8" width="11.70" height="122.90" fill="url(#cb)" stroke="#8a8a90" stroke-width="0.5" filter="url(#soft)"/>
<rect x="582.9" y="103.8" width="19.90" height="19.20" fill="#ffffff"/>
<text transform="translate(593.0 117.1) scale(0.9 1)" font-size="16.5" text-anchor="middle" fill="#17178a" stroke="#17178a" stroke-width="0.4" filter="url(#glow)">c</text>
</g>
<g id="panel-d">
<rect x="2" y="151.5" width="207.25" height="139.50" fill="#f1f2f2"/>
<rect x="17.5" y="154.95" width="159.90" height="125.55" fill="#ffffff"/>
<g filter="url(#soft)">
<rect x="17.5" y="157.25" width="159.50" height="120.75" fill="#1e1af4"/>
<circle cx="140.75" cy="196.5" r="25.8" fill="url(#g_r)" filter="url(#h_r)"/>
<circle cx="74.1" cy="231.1" r="25.9" fill="url(#g_d)" filter="url(#h_d)"/>
<path d="M23.75 157.25H26.25V271.00L25.75 275.00L24.95 277.70H23.75Z" fill="#f2ee10"/>
<path d="M24.25 170.25L21.25 171.95L24.25 173.35Z" fill="#f2ee10" stroke="#f2ee10" stroke-width="0.7" stroke-linejoin="round"/>
<circle cx="28.5" cy="181.5" r="1.3" fill="#f2ee10"/>
<circle cx="43.25" cy="178" r="1.25" fill="#f2ee10"/>
<circle cx="49.5" cy="181.75" r="0.9" fill="#f2ea48"/>
</g>
<path d="M17.5 154.45V280.50H177.30" fill="none" stroke="#70707a" stroke-width="0.6"/>
<g filter="url(#tsoft)">
<path d="M40.00 280.50v-1.6" stroke="#666" stroke-width="0.5"/>
<text x="40.00" y="287.85" font-size="5.4" text-anchor="middle" fill="#46464c" stroke="#46464c" stroke-width="0.15">200</text>
<path d="M63.25 280.50v-1.6" stroke="#666" stroke-width="0.5"/>
<text x="63.25" y="287.85" font-size="5.4" text-anchor="middle" fill="#46464c" stroke="#46464c" stroke-width="0.15">400</text>
<path d="M86.50 280.50v-1.6" stroke="#666" stroke-width="0.5"/>
<text x="86.50" y="287.85" font-size="5.4" text-anchor="middle" fill="#46464c" stroke="#46464c" stroke-width="0.15">600</text>
<path d="M109.75 280.50v-1.6" stroke="#666" stroke-width="0.5"/>
<text x="109.75" y="287.85" font-size="5.4" text-anchor="middle" fill="#46464c" stroke="#46464c" stroke-width="0.15">800</text>
<path d="M133.00 280.50v-1.6" stroke="#666" stroke-width="0.5"/>
<text x="133.00" y="287.85" font-size="5.4" text-anchor="middle" fill="#46464c" stroke="#46464c" stroke-width="0.15">1000</text>
<path d="M156.25 280.50v-1.6" stroke="#666" stroke-width="0.5"/>
<text x="156.25" y="287.85" font-size="5.4" text-anchor="middle" fill="#46464c" stroke="#46464c" stroke-width="0.15">1200</text>
<text x="15.3" y="164.60" font-size="5.4" text-anchor="end" fill="#46464c" stroke="#46464c" stroke-width="0.15">1000</text>
<text x="15.3" y="187.70" font-size="5.4" text-anchor="end" fill="#46464c" stroke="#46464c" stroke-width="0.15">800</text>
<text x="15.3" y="210.80" font-size="5.4" text-anchor="end" fill="#46464c" stroke="#46464c" stroke-width="0.15">600</text>
<text x="15.3" y="233.90" font-size="5.4" text-anchor="end" fill="#46464c" stroke="#46464c" stroke-width="0.15">400</text>
<text x="15.3" y="257.00" font-size="5.4" text-anchor="end" fill="#46464c" stroke="#46464c" stroke-width="0.15">200</text>
<text x="15.3" y="280.10" font-size="5.4" text-anchor="end" fill="#46464c" stroke="#46464c" stroke-width="0.15">0</text>
<text x="195.50" y="160.80" font-size="4.8" fill="#46464c" stroke="#46464c" stroke-width="0.15">1000</text>
<text x="195.50" y="172.98" font-size="4.8" fill="#46464c" stroke="#46464c" stroke-width="0.15">900</text>
<text x="195.50" y="185.15" font-size="4.8" fill="#46464c" stroke="#46464c" stroke-width="0.15">800</text>
<text x="195.50" y="197.33" font-size="4.8" fill="#46464c" stroke="#46464c" stroke-width="0.15">700</text>
<text x="195.50" y="209.50" font-size="4.8" fill="#46464c" stroke="#46464c" stroke-width="0.15">600</text>
<text x="195.50" y="221.68" font-size="4.8" fill="#46464c" stroke="#46464c" stroke-width="0.15">500</text>
<text x="195.50" y="233.85" font-size="4.8" fill="#46464c" stroke="#46464c" stroke-width="0.15">400</text>
<text x="195.50" y="246.03" font-size="4.8" fill="#46464c" stroke="#46464c" stroke-width="0.15">300</text>
<text x="195.50" y="258.20" font-size="4.8" fill="#46464c" stroke="#46464c" stroke-width="0.15">200</text>
<text x="195.50" y="270.38" font-size="4.8" fill="#46464c" stroke="#46464c" stroke-width="0.15">100</text>
<text x="195.50" y="282.55" font-size="4.8" fill="#46464c" stroke="#46464c" stroke-width="0.15">0</text>
</g>
<rect x="182.5" y="155.5" width="11.00" height="124.75" fill="url(#cb)" stroke="#8a8a90" stroke-width="0.5" filter="url(#soft)"/>
<rect x="148.9" y="252.85" width="19.85" height="19.90" fill="#ffffff"/>
<text transform="translate(158.4 267.1) scale(1 1)" font-size="17" text-anchor="middle" fill="#17178a" stroke="#17178a" stroke-width="0.1" filter="url(#glow)">d</text>
</g>
<g id="panel-e">
<rect x="218" y="151.5" width="208.25" height="139.50" fill="#f1f2f2"/>
<rect x="235.75" y="154.95" width="158.40" height="125.30" fill="#ffffff"/>
<g filter="url(#soft)">
<rect x="235.75" y="157.25" width="158.00" height="120.50" fill="#1e1af4"/>
<circle cx="357.5" cy="196.5" r="25.8" fill="url(#g_r)" filter="url(#h_r)"/>
<circle cx="291.9" cy="231.9" r="25.7" fill="url(#g_e)" filter="url(#h_e)"/>
<circle cx="291.3" cy="231.5" r="7.2" fill="url(#core_e)"/>
<circle cx="289.7" cy="230.3" r="1.1" fill="#f8a41e" opacity="0.9"/>
<circle cx="292.7" cy="229.1" r="0.9" fill="#f8a41e" opacity="0.9"/>
<circle cx="291.9" cy="232.9" r="1.2" fill="#f8a41e" opacity="0.9"/>
<circle cx="288.7" cy="233.4" r="0.8" fill="#f8a41e" opacity="0.9"/>
<circle cx="294.2" cy="232.1" r="0.9" fill="#f8a41e" opacity="0.9"/>
<circle cx="291.0" cy="227.9" r="0.7" fill="#f8a41e" opacity="0.9"/>
<circle cx="291.5" cy="231.1" r="0.8" fill="#f8a41e" opacity="0.9"/>
<path d="M242 157.25H244.5V270.75L244.00 274.75L243.20 277.45H242Z" fill="#f2ee10"/>
<path d="M242.50 170.25L239.50 171.95L242.50 173.35Z" fill="#f2ee10" stroke="#f2ee10" stroke-width="0.7" stroke-linejoin="round"/>
<circle cx="246.5" cy="181.5" r="1.3" fill="#f2ee10"/>
<circle cx="261.25" cy="178" r="1.25" fill="#f2ee10"/>
<circle cx="267.5" cy="181.75" r="0.9" fill="#f2ea48"/>
</g>
<path d="M235.75 154.45V280.25H394.05" fill="none" stroke="#70707a" stroke-width="0.6"/>
<g filter="url(#tsoft)">
<path d="M258.00 280.25v-1.6" stroke="#666" stroke-width="0.5"/>
<text x="258.00" y="287.60" font-size="5.4" text-anchor="middle" fill="#46464c" stroke="#46464c" stroke-width="0.15">200</text>
<path d="M281.10 280.25v-1.6" stroke="#666" stroke-width="0.5"/>
<text x="281.10" y="287.60" font-size="5.4" text-anchor="middle" fill="#46464c" stroke="#46464c" stroke-width="0.15">400</text>
<path d="M304.20 280.25v-1.6" stroke="#666" stroke-width="0.5"/>
<text x="304.20" y="287.60" font-size="5.4" text-anchor="middle" fill="#46464c" stroke="#46464c" stroke-width="0.15">600</text>
<path d="M327.30 280.25v-1.6" stroke="#666" stroke-width="0.5"/>
<text x="327.30" y="287.60" font-size="5.4" text-anchor="middle" fill="#46464c" stroke="#46464c" stroke-width="0.15">800</text>
<path d="M350.40 280.25v-1.6" stroke="#666" stroke-width="0.5"/>
<text x="350.40" y="287.60" font-size="5.4" text-anchor="middle" fill="#46464c" stroke="#46464c" stroke-width="0.15">1000</text>
<path d="M373.50 280.25v-1.6" stroke="#666" stroke-width="0.5"/>
<text x="373.50" y="287.60" font-size="5.4" text-anchor="middle" fill="#46464c" stroke="#46464c" stroke-width="0.15">1200</text>
<text x="233.5" y="164.85" font-size="5.4" text-anchor="end" fill="#46464c" stroke="#46464c" stroke-width="0.15">1000</text>
<text x="233.5" y="187.70" font-size="5.4" text-anchor="end" fill="#46464c" stroke="#46464c" stroke-width="0.15">800</text>
<text x="233.5" y="210.55" font-size="5.4" text-anchor="end" fill="#46464c" stroke="#46464c" stroke-width="0.15">600</text>
<text x="233.5" y="233.40" font-size="5.4" text-anchor="end" fill="#46464c" stroke="#46464c" stroke-width="0.15">400</text>
<text x="233.5" y="256.25" font-size="5.4" text-anchor="end" fill="#46464c" stroke="#46464c" stroke-width="0.15">200</text>
<text x="233.5" y="279.10" font-size="5.4" text-anchor="end" fill="#46464c" stroke="#46464c" stroke-width="0.15">0</text>
<text x="412.00" y="160.80" font-size="4.8" fill="#46464c" stroke="#46464c" stroke-width="0.15">1000</text>
<text x="412.00" y="172.93" font-size="4.8" fill="#46464c" stroke="#46464c" stroke-width="0.15">900</text>
<text x="412.00" y="185.05" font-size="4.8" fill="#46464c" stroke="#46464c" stroke-width="0.15">800</text>
<text x="412.00" y="197.18" font-size="4.8" fill="#46464c" stroke="#46464c" stroke-width="0.15">700</text>
<text x="412.00" y="209.30" font-size="4.8" fill="#46464c" stroke="#46464c" stroke-width="0.15">600</text>
<text x="412.00" y="221.43" font-size="4.8" fill="#46464c" stroke="#46464c" stroke-width="0.15">500</text>
<text x="412.00" y="233.55" font-size="4.8" fill="#46464c" stroke="#46464c" stroke-width="0.15">400</text>
<text x="412.00" y="245.68" font-size="4.8" fill="#46464c" stroke="#46464c" stroke-width="0.15">300</text>
<text x="412.00" y="257.80" font-size="4.8" fill="#46464c" stroke="#46464c" stroke-width="0.15">200</text>
<text x="412.00" y="269.93" font-size="4.8" fill="#46464c" stroke="#46464c" stroke-width="0.15">100</text>
<text x="412.00" y="282.05" font-size="4.8" fill="#46464c" stroke="#46464c" stroke-width="0.15">0</text>
</g>
<rect x="398.75" y="155.5" width="11.25" height="123.50" fill="url(#cb)" stroke="#8a8a90" stroke-width="0.5" filter="url(#soft)"/>
<rect x="366.1" y="253.0" width="20.30" height="19.75" fill="#ffffff"/>
<text transform="translate(376.4 267.3) scale(0.97 1)" font-size="17" text-anchor="middle" fill="#17178a" stroke="#17178a" stroke-width="0.1" filter="url(#glow)">e</text>
</g>
<g id="panel-f">
<rect x="434.5" y="151.5" width="206.50" height="139.50" fill="#f1f2f2"/>
<rect x="451.75" y="156.70" width="155.15" height="121.80" fill="#ffffff"/>
<g filter="url(#soft)">
<rect x="451.75" y="159" width="154.75" height="117.00" fill="#1e1af4"/>
<circle cx="571.6" cy="197.75" r="25.6" fill="url(#g_r)" filter="url(#h_r)"/>
<circle cx="509.1" cy="231.7" r="25.3" fill="url(#g_f)" filter="url(#h_f)"/>
<circle cx="510" cy="230.4" r="6.4" fill="url(#core_f)"/>
<circle cx="508.8" cy="229.4" r="0.7" fill="#f6b41e" opacity="0.85"/>
<circle cx="511.8" cy="228.8" r="0.6" fill="#f6b41e" opacity="0.85"/>
<circle cx="512.4" cy="231.8" r="0.6" fill="#f6b41e" opacity="0.85"/>
<path d="M457.5 159.00H460V269.00L459.50 273.00L458.70 275.70H457.5Z" fill="#f2ee10"/>
<path d="M458.00 171.50L455.00 173.20L458.00 174.60Z" fill="#f2ee10" stroke="#f2ee10" stroke-width="0.7" stroke-linejoin="round"/>
<circle cx="462" cy="182.75" r="1.3" fill="#f2ee10"/>
<circle cx="476.5" cy="179" r="1.25" fill="#f2ee10"/>
<circle cx="482.75" cy="182.75" r="0.9" fill="#f2ea48"/>
</g>
<path d="M451.75 156.20V278.50H606.80" fill="none" stroke="#70707a" stroke-width="0.6"/>
<g filter="url(#tsoft)">
<path d="M473.25 278.50v-1.6" stroke="#666" stroke-width="0.5"/>
<text x="473.25" y="286.85" font-size="5.4" text-anchor="middle" fill="#46464c" stroke="#46464c" stroke-width="0.15">200</text>
<path d="M495.95 278.50v-1.6" stroke="#666" stroke-width="0.5"/>
<text x="495.95" y="286.85" font-size="5.4" text-anchor="middle" fill="#46464c" stroke="#46464c" stroke-width="0.15">400</text>
<path d="M518.65 278.50v-1.6" stroke="#666" stroke-width="0.5"/>
<text x="518.65" y="286.85" font-size="5.4" text-anchor="middle" fill="#46464c" stroke="#46464c" stroke-width="0.15">600</text>
<path d="M541.35 278.50v-1.6" stroke="#666" stroke-width="0.5"/>
<text x="541.35" y="286.85" font-size="5.4" text-anchor="middle" fill="#46464c" stroke="#46464c" stroke-width="0.15">800</text>
<path d="M564.05 278.50v-1.6" stroke="#666" stroke-width="0.5"/>
<text x="564.05" y="286.85" font-size="5.4" text-anchor="middle" fill="#46464c" stroke="#46464c" stroke-width="0.15">1000</text>
<path d="M586.75 278.50v-1.6" stroke="#666" stroke-width="0.5"/>
<text x="586.75" y="286.85" font-size="5.4" text-anchor="middle" fill="#46464c" stroke="#46464c" stroke-width="0.15">1200</text>
<text x="449.0" y="166.35" font-size="5.4" text-anchor="end" fill="#46464c" stroke="#46464c" stroke-width="0.15">1000</text>
<text x="449.0" y="188.85" font-size="5.4" text-anchor="end" fill="#46464c" stroke="#46464c" stroke-width="0.15">800</text>
<text x="449.0" y="211.35" font-size="5.4" text-anchor="end" fill="#46464c" stroke="#46464c" stroke-width="0.15">600</text>
<text x="449.0" y="233.85" font-size="5.4" text-anchor="end" fill="#46464c" stroke="#46464c" stroke-width="0.15">400</text>
<text x="449.0" y="256.35" font-size="5.4" text-anchor="end" fill="#46464c" stroke="#46464c" stroke-width="0.15">200</text>
<text x="449.0" y="278.85" font-size="5.4" text-anchor="end" fill="#46464c" stroke="#46464c" stroke-width="0.15">0</text>
<text x="625.00" y="162.10" font-size="4.8" fill="#46464c" stroke="#46464c" stroke-width="0.15">1000</text>
<text x="625.00" y="174.02" font-size="4.8" fill="#46464c" stroke="#46464c" stroke-width="0.15">900</text>
<text x="625.00" y="185.94" font-size="4.8" fill="#46464c" stroke="#46464c" stroke-width="0.15">800</text>
<text x="625.00" y="197.86" font-size="4.8" fill="#46464c" stroke="#46464c" stroke-width="0.15">700</text>
<text x="625.00" y="209.78" font-size="4.8" fill="#46464c" stroke="#46464c" stroke-width="0.15">600</text>
<text x="625.00" y="221.70" font-size="4.8" fill="#46464c" stroke="#46464c" stroke-width="0.15">500</text>
<text x="625.00" y="233.62" font-size="4.8" fill="#46464c" stroke="#46464c" stroke-width="0.15">400</text>
<text x="625.00" y="245.54" font-size="4.8" fill="#46464c" stroke="#46464c" stroke-width="0.15">300</text>
<text x="625.00" y="257.46" font-size="4.8" fill="#46464c" stroke="#46464c" stroke-width="0.15">200</text>
<text x="625.00" y="269.38" font-size="4.8" fill="#46464c" stroke="#46464c" stroke-width="0.15">100</text>
<text x="625.00" y="281.30" font-size="4.8" fill="#46464c" stroke="#46464c" stroke-width="0.15">0</text>
</g>
<rect x="611.5" y="156.5" width="11.50" height="121.75" fill="url(#cb)" stroke="#8a8a90" stroke-width="0.5" filter="url(#soft)"/>
<rect x="582.1" y="252.9" width="20.00" height="19.35" fill="#ffffff"/>
<text transform="translate(592.6 267.1) scale(1 1)" font-size="17" text-anchor="middle" fill="#17178a" stroke="#17178a" stroke-width="0.1" filter="url(#glow)">f</text>
</g>
</svg></body></html>
